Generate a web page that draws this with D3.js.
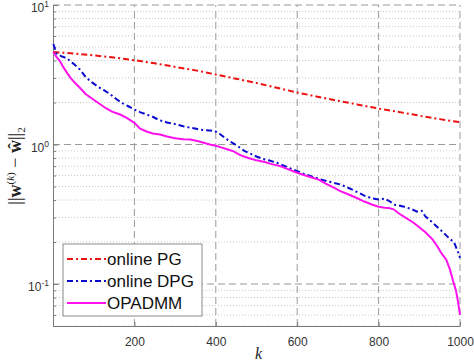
<!DOCTYPE html>
<html>
<head>
<meta charset="utf-8">
<script src="https://cdn.jsdelivr.net/npm/d3@7"></script>
<style>
  body { margin: 0; background: #fff; }
  svg { display: block; }
</style>
</head>
<body>
<div id="chart"></div>
<script>
// data
var seriesNames = ["online PG", "online DPG", "OPADMM"];

var kPG = [1, 50, 100, 150, 200, 250, 300, 350, 400, 450, 500, 550, 600, 650, 700, 750, 800, 850, 900, 950, 1000];
var errPG = [4.6, 4.5, 4.35, 4.2, 4.02, 3.82, 3.6, 3.4, 3.18, 2.96, 2.76, 2.55, 2.36, 2.2, 2.06, 1.93, 1.81, 1.71, 1.61, 1.52, 1.445];

var kDPG = [1, 8, 20, 34, 50, 66, 80, 95, 110, 125, 140, 157, 170, 185, 200, 215, 230, 245, 260, 280, 300, 320, 337, 355, 370, 385, 398,
  410, 425, 440, 455, 470, 485, 500, 515, 530, 550, 570, 585, 600, 620, 640, 660, 680, 706, 725, 745, 765, 785, 800,
  815, 825, 840, 860, 880, 895, 906, 915, 930, 945, 955, 965, 975, 985, 995, 1000];
var errDPG = [5.25, 4.5, 4.3, 4.15, 3.8, 3.45, 3.05, 2.8, 2.6, 2.45, 2.3, 2.1, 1.98, 1.88, 1.78, 1.7, 1.64, 1.58, 1.5, 1.44, 1.4, 1.35, 1.32, 1.29, 1.27, 1.26, 1.25,
  1.19, 1.1, 1.03, 0.97, 0.9, 0.86, 0.82, 0.79, 0.77, 0.74, 0.7, 0.67, 0.645, 0.61, 0.585, 0.56, 0.54, 0.517, 0.49, 0.46, 0.43, 0.41, 0.403,
  0.41, 0.395, 0.37, 0.36, 0.345, 0.33, 0.335, 0.305, 0.28, 0.255, 0.24, 0.225, 0.21, 0.2, 0.17, 0.154];

var kADMM = [1, 5, 10, 17, 25, 35, 45, 55, 66, 80, 99, 115, 130, 145, 165, 180, 200, 214, 230, 245, 263, 280, 300, 320, 337, 355, 370, 385, 398,
  415, 430, 445, 460, 480, 500, 520, 540, 558, 580, 600, 620, 640, 653, 670, 690, 706, 725, 745, 765, 785, 800,
  815, 825, 837, 850, 865, 886, 900, 915, 933, 945, 955, 966, 975, 983, 990, 995, 1000];
var errADMM = [4.6, 4.4, 4.2, 3.96, 3.6, 3.25, 2.95, 2.75, 2.55, 2.3, 2.1, 1.95, 1.82, 1.72, 1.64, 1.56, 1.43, 1.3, 1.24, 1.2, 1.18, 1.14, 1.11, 1.09, 1.086, 1.06, 1.03, 1.0, 0.984,
  0.95, 0.92, 0.89, 0.84, 0.8, 0.77, 0.75, 0.72, 0.70, 0.66, 0.627, 0.6, 0.575, 0.56, 0.525, 0.49, 0.463, 0.44, 0.415, 0.39, 0.37, 0.358,
  0.352, 0.35, 0.343, 0.32, 0.3, 0.275, 0.255, 0.235, 0.208, 0.185, 0.165, 0.15, 0.128, 0.105, 0.09, 0.075, 0.06];

var xTicks = [200, 400, 600, 800, 1000];
var yMajor = [0.1, 1, 10];
var yMajorExp = ["-1", "0", "1"];

var W = 474, H = 361;
var margin = { top: 5, right: 14, bottom: 35, left: 53 };

var svg = d3.select("#chart").append("svg")
  .attr("width", W)
  .attr("height", H);

var x = d3.scaleLinear().domain([0, 1000]).range([margin.left, W - margin.right]);
var y = d3.scaleLog().domain([0.05, 10]).range([H - margin.bottom, margin.top]);

// minor values for y grid (2..9 x 10^n)
var yMinor = [];
[0.01, 0.1, 1].forEach(function(d) {
  for (var i = 2; i <= 9; i++) {
    var v = +(d * i).toPrecision(3);
    if (v >= 0.05 && v <= 10) yMinor.push(v);
  }
});

// grid
var grid = svg.append("g");
grid.selectAll(".minor").data(yMinor).enter().append("line")
  .attr("x1", x(0)).attr("x2", x(1000))
  .attr("y1", d => y(d)).attr("y2", d => y(d))
  .attr("stroke", "#c8c8c8").attr("stroke-width", 1)
  .attr("stroke-dasharray", "1,2");
grid.selectAll(".majY").data(yMajor).enter().append("line")
  .attr("x1", x(0)).attr("x2", x(1000))
  .attr("y1", d => y(d)).attr("y2", d => y(d))
  .attr("stroke", "#9a9a9a").attr("stroke-width", 1)
  .attr("stroke-dasharray", "7,4");
grid.selectAll(".majX").data(xTicks).enter().append("line")
  .attr("x1", d => x(d)).attr("x2", d => x(d))
  .attr("y1", y(0.05)).attr("y2", y(10))
  .attr("stroke", "#9a9a9a").attr("stroke-width", 1)
  .attr("stroke-dasharray", "7,4");

// axes
var xAxis = svg.append("g")
  .attr("transform", "translate(0," + y(0.05) + ")")
  .call(d3.axisBottom(x).tickValues(xTicks).tickSize(-4).tickPadding(11).tickSizeOuter(0).tickFormat(d3.format("d")));
xAxis.select(".domain").attr("stroke", "#7a7a7a");
xAxis.selectAll(".tick line").attr("stroke", "#7a7a7a");
xAxis.selectAll("text")
  .attr("font-family", "Liberation Sans, Arial, sans-serif")
  .attr("font-size", 12)
  .attr("fill", "#333");

var yAxisMinor = svg.append("g")
  .attr("transform", "translate(" + x(0) + ",0)")
  .call(d3.axisLeft(y).tickValues(yMinor).tickSize(-3).tickFormat("").tickSizeOuter(0));
yAxisMinor.select(".domain").attr("stroke", "#7a7a7a");
yAxisMinor.selectAll(".tick line").attr("stroke", "#7a7a7a");

var yAxis = svg.append("g")
  .attr("transform", "translate(" + x(0) + ",0)")
  .call(d3.axisLeft(y).tickValues(yMajor).tickSize(-5).tickFormat("").tickSizeOuter(0));
yAxis.select(".domain").attr("stroke", "#7a7a7a");
yAxis.selectAll(".tick line").attr("stroke", "#7a7a7a");

var yLab = svg.append("g").selectAll("text").data(yMajor).enter().append("text")
  .attr("x", x(0) - 4)
  .attr("y", d => y(d) + 7)
  .attr("text-anchor", "end")
  .attr("font-family", "Liberation Sans, Arial, sans-serif")
  .attr("fill", "#333");
yLab.append("tspan").attr("font-size", 12).text("10");
yLab.append("tspan").attr("font-size", 8.5).attr("dy", -5).text((d, i) => yMajorExp[i]);

// axis titles
svg.append("text")
  .attr("x", x(500) + 2)
  .attr("y", H - 2)
  .attr("text-anchor", "middle")
  .attr("font-family", "Liberation Serif, Times New Roman, serif")
  .attr("font-style", "italic")
  .attr("font-size", 16)
  .attr("fill", "#222")
  .text("k");

var yTitle = svg.append("text")
  .attr("transform", "translate(21,166) rotate(-90)")
  .attr("text-anchor", "middle")
  .attr("font-family", "Liberation Serif, Times New Roman, serif")
  .attr("font-size", 18)
  .attr("fill", "#222");
yTitle.append("tspan").attr("font-weight", "normal").text("||");
yTitle.append("tspan").attr("font-weight", "bold").text("w");
yTitle.append("tspan").attr("font-size", 11).attr("dy", -7).text("(");
yTitle.append("tspan").attr("font-size", 11).attr("font-style", "italic").text("k");
yTitle.append("tspan").attr("font-size", 11).text(")");
yTitle.append("tspan").attr("dy", 7).text(" \u2212 ");
yTitle.append("tspan").attr("font-weight", "bold").text("w\u0302");
yTitle.append("tspan").text("||");
yTitle.append("tspan").attr("font-size", 11).attr("dy", 4).text("2");

// lines
var line = d3.line()
  .x(d => x(d[0]))
  .y(d => y(d[1]));

var series = [
  { name: seriesNames[0], k: kPG, v: errPG, color: "#ee1111", dash: "6,3,2,3" },
  { name: seriesNames[1], k: kDPG, v: errDPG, color: "#0a0ad0", dash: "6,3,2,3" },
  { name: seriesNames[2], k: kADMM, v: errADMM, color: "#ff11ee", dash: null }
];

var plot = svg.append("g");
plot.selectAll("path").data(series).enter().append("path")
  .attr("d", s => line(s.k.map((k, i) => [k, s.v[i]])))
  .attr("fill", "none")
  .attr("stroke", s => s.color)
  .attr("stroke-width", 2)
  .attr("stroke-dasharray", s => s.dash);

// legend
var lg = svg.append("g").attr("transform", "translate(63,244)");
lg.append("rect")
  .attr("width", 139).attr("height", 72)
  .attr("fill", "#fff")
  .attr("stroke", "#8a8a8a").attr("stroke-width", 1);
var rows = lg.selectAll(".row").data(series).enter().append("g")
  .attr("transform", (d, i) => "translate(0," + (15 + i * 22) + ")");
rows.append("line")
  .attr("x1", 4).attr("x2", 43)
  .attr("stroke", d => d.color)
  .attr("stroke-width", 2)
  .attr("stroke-dasharray", d => d.dash);
rows.append("text")
  .attr("x", 44).attr("y", 6)
  .attr("font-family", "Liberation Sans, Arial, sans-serif")
  .attr("font-size", 17)
  .attr("fill", "#111")
  .text(d => d.name);
</script>
</body>
</html>
